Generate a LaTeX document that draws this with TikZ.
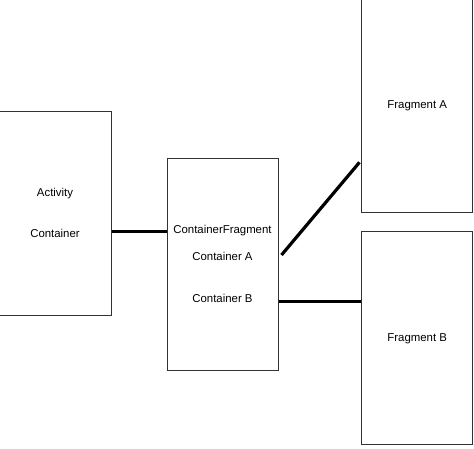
\documentclass[tikz,border=0pt]{standalone}
\usepackage{fontspec}
\setmainfont{Liberation Sans}
\begin{document}
\begin{tikzpicture}[x=1pt,y=-1pt,
  box/.style={draw=black!80, line width=1pt, fill=white, inner sep=0pt, align=center,
    font=\fontsize{11.4}{13.4}\selectfont},
  conn/.style={line width=3.2pt, black}]
\useasboundingbox (0,0) rectangle (474,448);
\clip (0,0) rectangle (474,448);
\fill[white] (0,0) rectangle (474,448);
\node[box, minimum width=112pt, minimum height=204pt] (act) at (55,213)
  {Activity\\[27.6pt]Container};
\node[box, minimum width=111pt, minimum height=212pt] (cf) at (222.5,264)
  {ContainerFragment\\[14.1pt]Container A\\[28.6pt]Container B};
\node[box, minimum width=111pt, minimum height=215pt] (fa) at (417.2,105.3)
  {Fragment A};
\node[box, minimum width=111pt, minimum height=213.3pt] (fb) at (417.2,338.3)
  {Fragment B};
\draw[conn] ([yshift=-18.7pt]act.east) -- ([yshift=-18.7pt]act.east -| cf.west);
\draw[conn] ([yshift=-37.7pt]cf.east) -- ([yshift=-37.7pt]cf.east -| fb.west);
\draw[conn] ([shift={(3pt,9pt)}]cf.east) -- ([shift={(-1.7pt,-57pt)}]fa.west);
\end{tikzpicture}
\end{document}
